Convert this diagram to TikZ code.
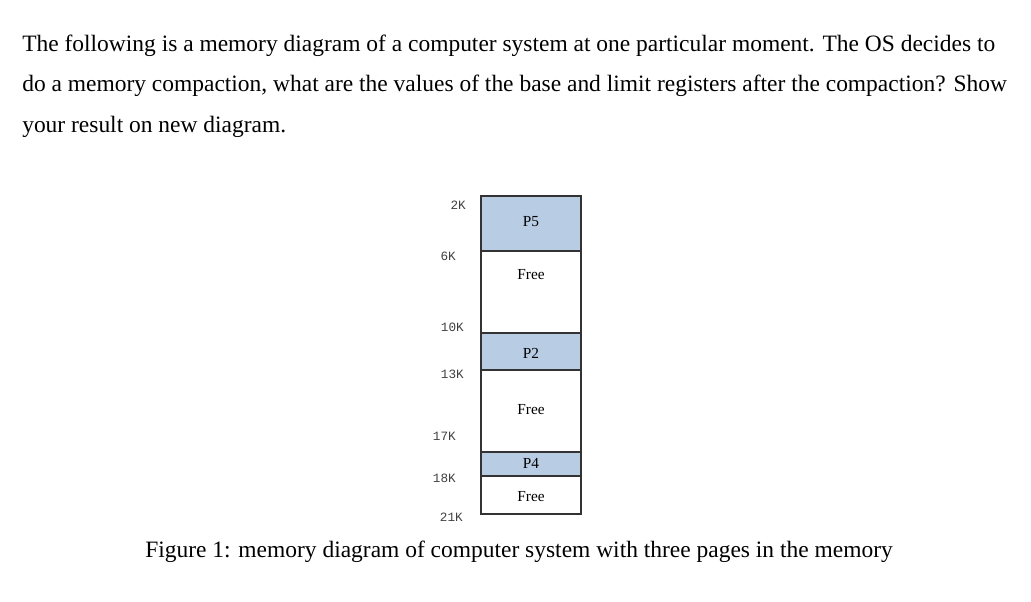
\documentclass[tikz,border=0pt]{standalone}
\usepackage{fontspec}
\setmainfont{Liberation Serif}
\newfontfamily\monof{Liberation Mono}
\definecolor{pblue}{RGB}{184,204,228}
\begin{document}
\begin{tikzpicture}[x=0.75pt,y=-0.75pt,
  txt/.style={anchor=west,inner sep=0pt,font=\fontsize{17.6}{20}\selectfont},
  lab/.style={anchor=east,inner sep=0pt,font=\monof\fontsize{9.5}{11}\selectfont,text=black!75},
  seg/.style={draw=black!80,line width=0.8pt},
  proc/.style={seg,fill=pblue},
  inl/.style={font=\fontsize{11.5}{13}\selectfont}]
\useasboundingbox (0,0) rectangle (1031,601);
\node[txt] (l1) at (22,46) {The following is a memory diagram of a computer system at one particular moment. The OS decides to};
\node[txt] (l2) at (22,86) {do a memory compaction, what are the values of the base and limit registers after the compaction? Show};
\node[txt] (l3) at (22,127) {your result on new diagram.};
\draw[proc] (481,196) rectangle (581,251); \node[inl] (p5) at (531,222) {P5};
\draw[seg] (481,251) rectangle (581,333); \node[inl] (f1) at (531,275) {Free};
\draw[proc] (481,333) rectangle (581,370); \node[inl] (p2) at (531,353) {P2};
\draw[seg] (481,370) rectangle (581,452); \node[inl] (f2) at (531,410) {Free};
\draw[proc] (481,452) rectangle (581,476); \node[inl] (p4) at (531,463) {P4};
\draw[seg] (481,476) rectangle (581,514); \node[inl] (f3) at (531,497) {Free};
\node[lab] (a) at (466,205) {2K};
\node[lab] (b) at (456,256) {6K};
\node[lab] (c) at (464,327) {10K};
\node[lab] (d) at (464,374) {13K};
\node[lab] (e) at (456,436) {17K};
\node[lab] (f) at (456,478) {18K};
\node[lab] (g) at (463,517) {21K};
\node[txt] (cap) at (145,552) {Figure 1: memory diagram of computer system with three pages in the memory};
\end{tikzpicture}
\end{document}
